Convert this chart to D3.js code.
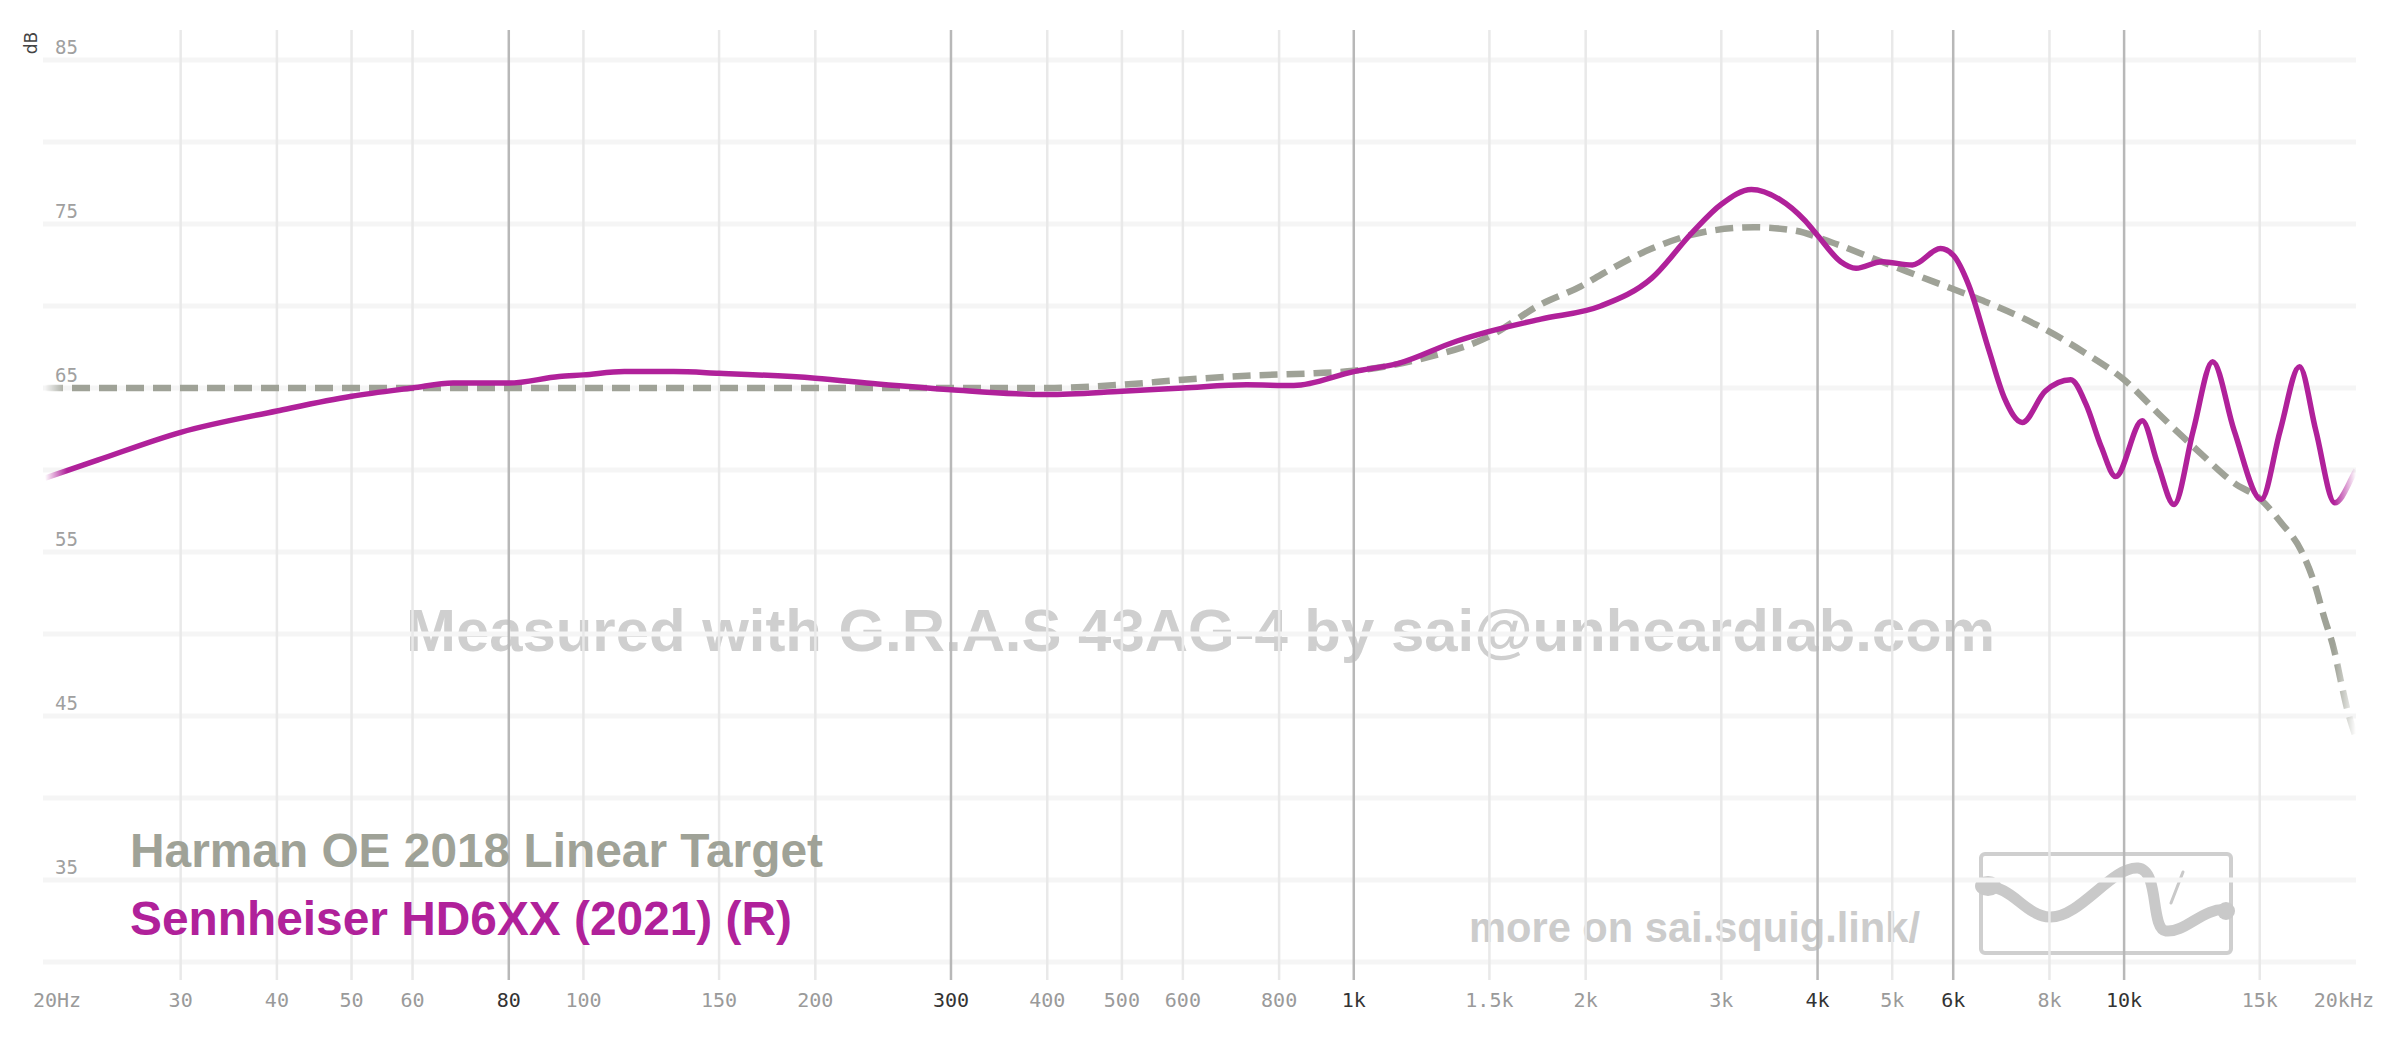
<!DOCTYPE html>
<html><head><meta charset="utf-8">
<script src="https://cdn.jsdelivr.net/npm/d3@7"></script>
<style>html,body{margin:0;padding:0;background:#fff;} svg{display:block}</style>
</head><body>
<svg id="chart" width="2400" height="1038"></svg>
<script>
// ---------------- data ----------------
const freqTicks = [20,30,40,50,60,80,100,150,200,300,400,500,600,800,1000,1500,2000,3000,4000,5000,6000,8000,10000,15000,20000];
const freqTickLabels = ["20Hz","30","40","50","60","80","100","150","200","300","400","500","600","800","1k","1.5k","2k","3k","4k","5k","6k","8k","10k","15k","20kHz"];
const darkTicks = [80,300,1000,4000,6000,10000];
const dbLabelTicks = [85,75,65,55,45,35];
const dbGridTicks = [30,35,40,45,50,55,60,65,70,75,80,85];

const targetFreq = [20,100,200,300,400,500,600,726,889,1000,1228,1500,1749,1971,2092,2437,2839,3308,3737,4159,4845,5645,6576,7661,8925,10000,11217,12580,13900,15050,15980,16970,17660,18190,18740,19120,19510,19800,20000];
const targetDb   = [65,65,65,65,65.0,65.2,65.5,65.75,65.9,66.05,66.8,68.15,70.1,71.2,71.9,73.5,74.5,74.8,74.6,73.9,72.7,71.5,70.3,68.9,67.1,65.5,63.2,61.0,59.2,58.2,56.8,55.1,53.1,51.0,49.0,47.1,45.3,44.3,43.7];

const hdFreq = [20,23.4,30,40,50,60,67.7,80,93,100,113,131,150,200,241,300,400,500,600,726,836,1000,1143,1359,1500,1749,2092,2437,2753,3000,3282,3571,3853,4000,4287,4488,4845,5310,5776,6000,6282,6676,6991,7375,7898,8526,8925,9343,9752,10557,11052,11607,12295,13029,13895,15065,15943,16891,17738,18771,19893,20000];
const hdDb   = [59.5,60.6,62.3,63.6,64.5,65.0,65.3,65.3,65.7,65.8,66.0,66.0,65.9,65.6,65.25,64.9,64.6,64.8,65.0,65.2,65.15,66.0,66.5,67.85,68.45,69.2,70.0,71.7,74.5,76.2,77.1,76.5,75.2,74.3,72.7,72.3,72.7,72.5,73.5,73.1,71.3,67.3,64.4,62.9,64.8,65.5,64.0,61.4,59.6,63.0,60.4,57.9,62.4,66.6,62.4,58.2,62.4,66.3,62.4,58.0,59.8,60.0];

const seriesNames = ["Harman OE 2018 Linear Target","Sennheiser HD6XX (2021) (R)"];
const seriesColors = ["#9fa297","#b0219a"];
const watermarkText = "Measured with G.R.A.S 43AG-4 by sai@unheardlab.com";
const linkText = "more on sai.squig.link/";
const yAxisTitle = "dB";

// ---------------- layout ----------------
const svg = d3.select("#chart");
const x = d3.scaleLog().domain([20,20000]).range([45,2356]);
const y = d3.scaleLinear().domain([30,85]).range([962,60]);
const gridTop = 30, gridBottom = 980;
const monoFont = "'DejaVu Sans Mono', monospace";
const boldFont = "'Liberation Sans', Arial, sans-serif";

svg.append("rect").attr("width",2400).attr("height",1038).attr("fill","#fff");

// fade mask for curves
const defs = svg.append("defs");
const grad = defs.append("linearGradient").attr("id","fadeGrad")
  .attr("gradientUnits","userSpaceOnUse").attr("x1",x.range()[0]).attr("x2",x.range()[1]).attr("y1",0).attr("y2",0);
const span = x.range()[1]-x.range()[0];
[[0,0],[22/span,1],[1-22/span,1],[1,0]].forEach(([o,a])=>grad.append("stop").attr("offset",o).attr("stop-color","#fff").attr("stop-opacity",a));
defs.append("mask").attr("id","fadeMask").attr("maskUnits","userSpaceOnUse")
  .append("rect").attr("x",0).attr("y",0).attr("width",2400).attr("height",1038).attr("fill","url(#fadeGrad)");

// watermark (behind grid)
svg.append("text").text(watermarkText)
  .attr("x",406).attr("y",651).attr("textLength",1589).attr("lengthAdjust","spacingAndGlyphs")
  .attr("font-family",boldFont).attr("font-weight","bold").attr("font-size",59.5).attr("fill","#cfcfcf");

svg.append("text").text(linkText)
  .attr("x",1469).attr("y",942).attr("textLength",451).attr("lengthAdjust","spacingAndGlyphs")
  .attr("font-family",boldFont).attr("font-weight","bold").attr("font-size",42).attr("fill","#cccccc");

// logo
const logo = svg.append("g");
logo.append("rect").attr("x",1981).attr("y",854).attr("width",250).attr("height",99).attr("rx",4)
  .attr("fill","none").attr("stroke","#cfcfcf").attr("stroke-width",4);
logo.append("path").attr("d","M1984,887 C2012,884 2024,916 2050,917 C2080,918 2112,866 2138,868 C2160,870 2150,929 2166,931 C2186,933 2204,906 2228,910")
  .attr("fill","none").attr("stroke","#c9c9c9").attr("stroke-width",11).attr("stroke-linecap","round");
logo.append("ellipse").attr("cx",1988).attr("cy",886).attr("rx",13).attr("ry",10).attr("fill","#c9c9c9");
logo.append("ellipse").attr("cx",2226).attr("cy",911).attr("rx",9).attr("ry",9).attr("fill","#c9c9c9");
logo.append("path").attr("d","M2171,903 L2183,872").attr("stroke","#c9c9c9").attr("stroke-width",3).attr("stroke-linecap","round");

// horizontal grid
svg.append("g").selectAll("line").data(dbGridTicks).join("line")
  .attr("x1",43).attr("x2",2356).attr("y1",d=>y(d)).attr("y2",d=>y(d))
  .attr("stroke","#f5f5f5").attr("stroke-width",5);

// vertical grid
svg.append("g").selectAll("line").data(freqTicks.filter(f=>f>20&&f<20000)).join("line")
  .attr("x1",d=>x(d)).attr("x2",d=>x(d)).attr("y1",gridTop).attr("y2",gridBottom)
  .attr("stroke",d=>darkTicks.includes(d)?"#b8b8b8":"#e9e9e9").attr("stroke-width",2.5);

// x labels
svg.append("g").selectAll("text").data(freqTicks).join("text")
  .text((d,i)=>freqTickLabels[i])
  .attr("x",(d,i)=> i===0 ? 33 : (i===freqTicks.length-1 ? 2374 : x(d)))
  .attr("text-anchor",(d,i)=> i===0 ? "start" : (i===freqTicks.length-1 ? "end" : "middle"))
  .attr("y",1007).attr("font-family",monoFont).attr("font-size",20)
  .attr("fill",d=>darkTicks.includes(d)?"#333":"#9a9a9a");

// y labels
svg.append("g").selectAll("text").data(dbLabelTicks).join("text")
  .text(d=>d).attr("x",55).attr("y",d=>y(d)-6)
  .attr("font-family",monoFont).attr("font-size",19).attr("fill","#a0a0a0");

svg.append("text").text(yAxisTitle).attr("transform","translate(37,43) rotate(-90)")
  .attr("text-anchor","middle").attr("font-family","'DejaVu Sans', sans-serif").attr("font-size",17).attr("fill","#444");

// curves
const line = d3.line().x(d=>x(d[0])).y(d=>y(d[1])).curve(d3.curveMonotoneX);
const curves = svg.append("g").attr("mask","url(#fadeMask)");
curves.append("path").datum(targetFreq.map((f,i)=>[f,targetDb[i]]))
  .attr("d",line).attr("fill","none").attr("stroke",seriesColors[0]).attr("stroke-width",6.5).attr("stroke-dasharray","18 9");
curves.append("path").datum(hdFreq.map((f,i)=>[f,hdDb[i]]))
  .attr("d",line).attr("fill","none").attr("stroke",seriesColors[1]).attr("stroke-width",5.5).attr("stroke-linejoin","round");

// legend
const legendW = [693,662];
seriesNames.forEach((n,i)=>{
  svg.append("text").text(n).attr("x",130).attr("y",867+i*68)
    .attr("textLength",legendW[i]).attr("lengthAdjust","spacingAndGlyphs")
    .attr("font-family",boldFont).attr("font-weight","bold").attr("font-size",47.5).attr("fill",seriesColors[i]);
});
</script>
</body></html>
